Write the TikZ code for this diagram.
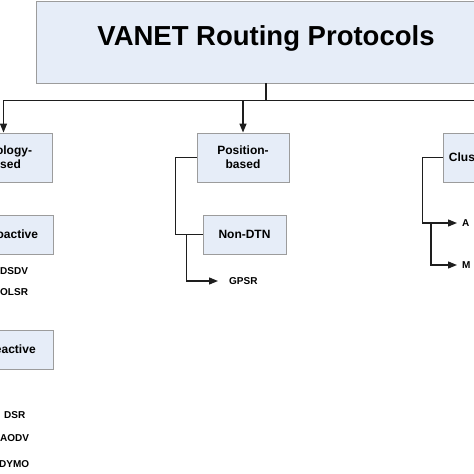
\documentclass[tikz,border=0pt]{standalone}
\usepackage{fontspec}
\setmainfont{Liberation Sans}
\usetikzlibrary{arrows.meta}
\definecolor{boxfill}{HTML}{E6EDF8}
\definecolor{boxline}{HTML}{9C9C9C}
\definecolor{wire}{HTML}{1E1E1E}
\begin{document}
\begin{tikzpicture}[x=1pt, y=-1pt, >={Triangle[length=9pt,width=7pt]},
  box/.style={draw=boxline, fill=boxfill, line width=0.9pt, inner sep=0pt,
    align=center, font=\bfseries\fontsize{12}{14}\selectfont},
  leaf/.style={inner sep=0pt, anchor=west, font=\bfseries\fontsize{10}{12}\selectfont},
  wire/.style={draw=wire, line width=1.3pt}]
  \useasboundingbox (0,0) rectangle (474,474);
  \clip (0,0) rectangle (474,474);

  % Title
  \node[box, minimum width=460pt, minimum height=82pt] (vanet) at (266,42) {};
  \node[anchor=base, font=\bfseries\fontsize{27.5}{30}\selectfont] (title) at (266,45) {VANET Routing Protocols};

  % Second level
  \node[box, minimum width=98pt, minimum height=49pt] (topo) at (3.5,157.5) {Topology-\\based};
  \node[box, minimum width=92pt, minimum height=49pt] (pos) at (243,157.5) {Position-\\based};
  \node[box, minimum width=92pt, minimum height=49pt] (clus) at (489,157.5) {Cluster-based};

  % Third level
  \node[box, minimum width=84pt, minimum height=39pt] (pro) at (11,234.5) {Proactive};
  \node[box, minimum width=84pt, minimum height=39pt] (rea) at (11,349.5) {Reactive};
  \node[box, minimum width=83pt, minimum height=39pt] (nondtn) at (244.5,234.5) {Non-DTN};

  % Protocols
  \node[leaf] (dsdv) at (0,271) {DSDV};
  \node[leaf] (olsr) at (0,292) {OLSR};
  \node[leaf] (dsr) at (4,415) {DSR};
  \node[leaf] (aodv) at (0,438) {AODV};
  \node[leaf] (dymo) at (-1,464) {DYMO};
  \node[leaf] (gpsr) at (229,281) {GPSR};
  \node[leaf] (amb) at (462,223) {A};
  \node[leaf] (mzo) at (462,265) {M};

  % Connectors from the title
  \draw[wire] (vanet.south) -- ++(0,17) coordinate (bus);
  \draw[wire, ->] (bus) -| (topo.north);
  \draw[wire, ->] (bus) -| (pos.north);
  \draw[wire, ->] (bus) -| (clus.north);

  % Position-based branch
  \draw[wire] (pos.west) -- ++(-21,0) |- (nondtn.west);
  \draw[wire, ->, shorten >=11pt] ([xshift=-16pt]nondtn.west) |- (gpsr.west);

  % Cluster branch
  \draw[wire, ->, shorten >=5pt] (clus.west) -- ++(-20,0) |- (amb.west);
  \draw[wire, ->, shorten >=5pt] ([xshift=-31pt]amb.west) |- (mzo.west);
\end{tikzpicture}
\end{document}
